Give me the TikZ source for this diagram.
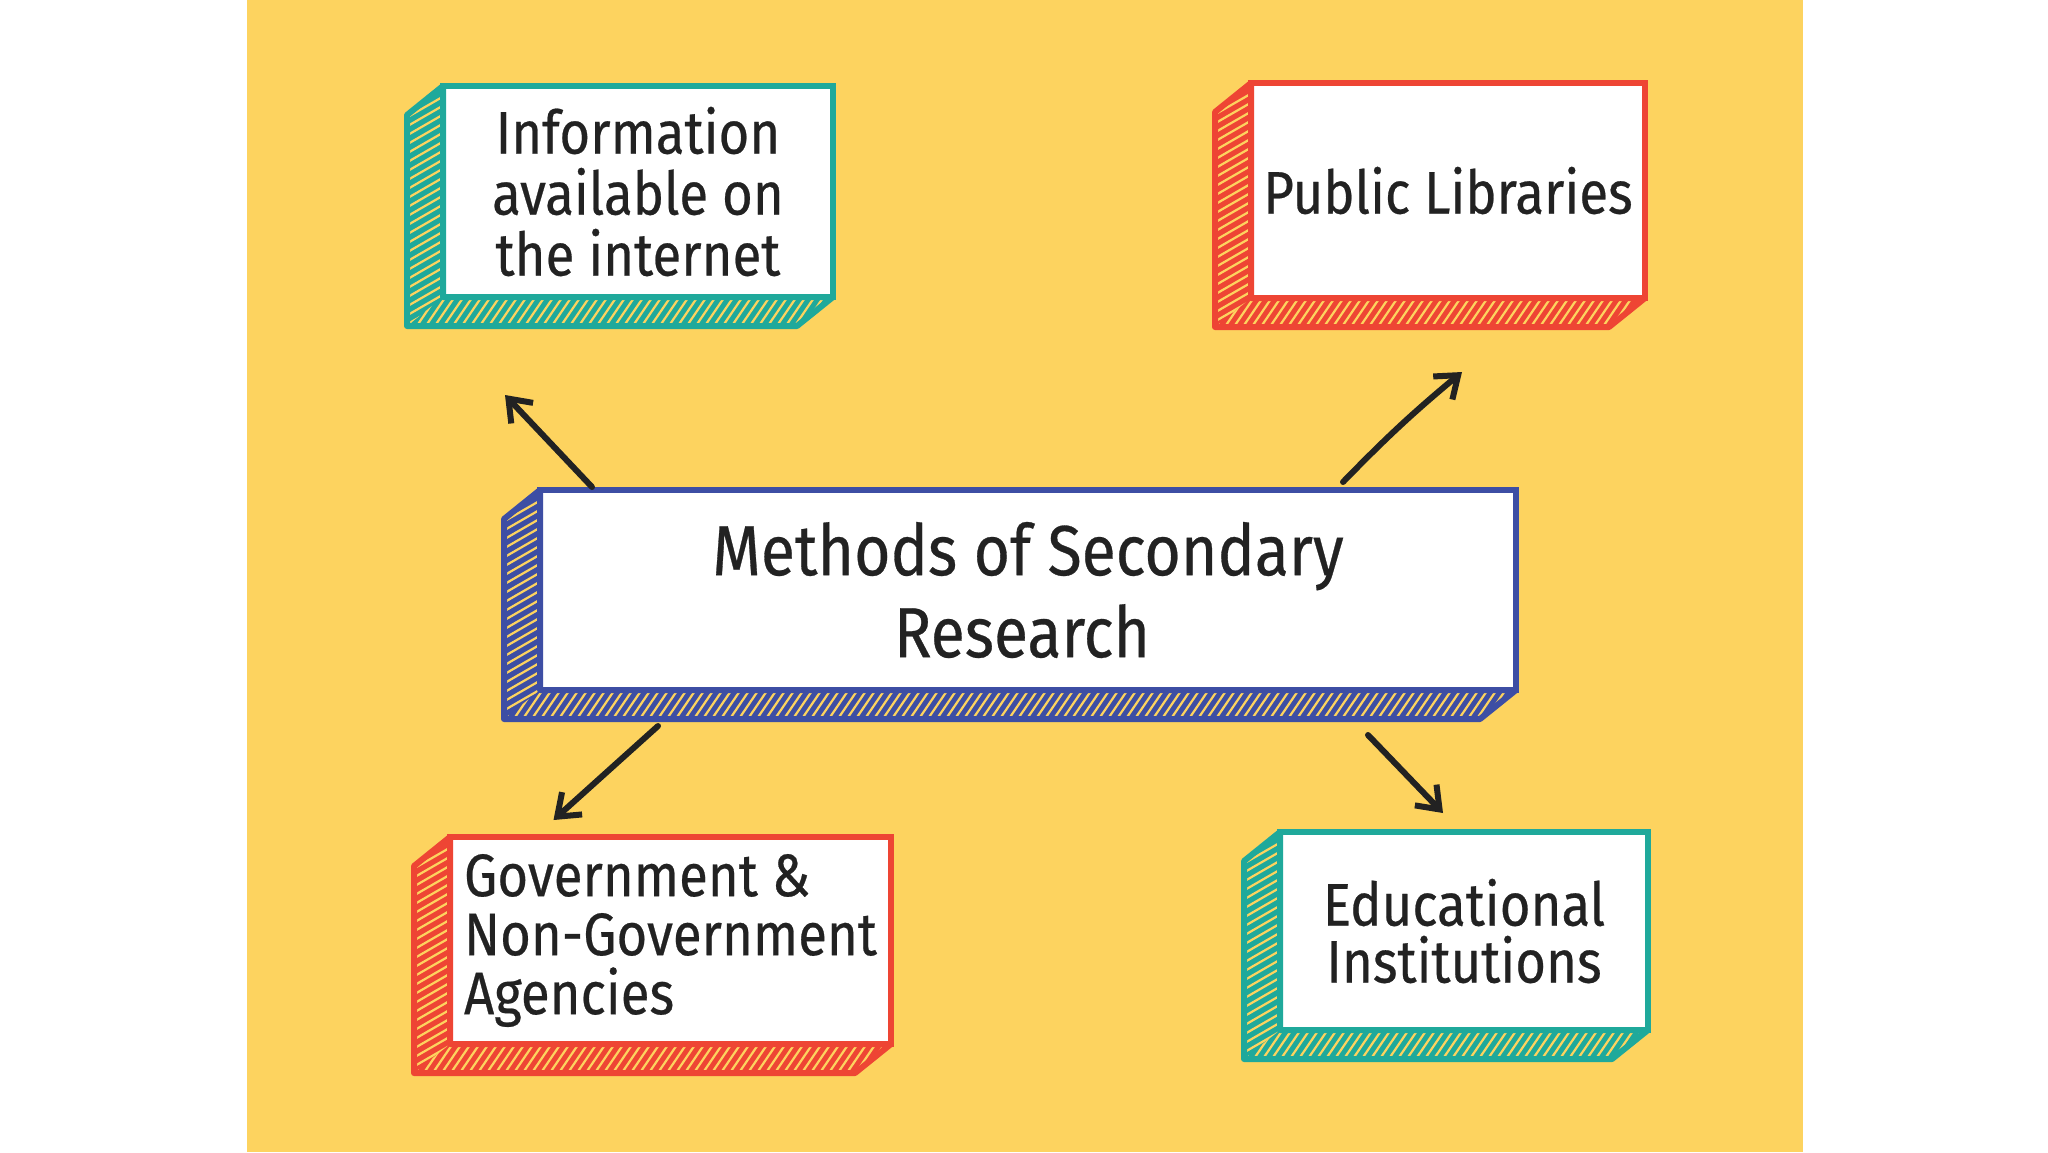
\documentclass[tikz,border=0pt]{standalone}
\usepackage{fontspec}
\setmainfont{Fira Sans}[FakeStretch=0.88, FakeBold=0.4]
\usetikzlibrary{arrows.meta}

\definecolor{sunbg}{HTML}{FDD35F}
\definecolor{tealc}{HTML}{1FA99B}
\definecolor{redc}{HTML}{EE4534}
\definecolor{bluec}{HTML}{3D4EA4}
\definecolor{inkc}{HTML}{222222}

\tikzset{
  card/.style={draw=#1, fill=white, line width=3pt, outer sep=0pt, inner sep=0pt, text=inkc},
  smalltext/.style={font={\fontsize{30pt}{30.5pt}\selectfont}},
  pointer/.style={-{Straight Barb[length=10pt,width=15pt]}, line width=3pt, line cap=round, line join=round, draw=inkc},
  hatch/.style={draw=sunbg, line width=1.1pt, line cap=round}
}

% hatched side and bottom of a card
\newcommand{\slab}[2]{%
  \fill[#2] (#1.north west) -- ([shift={(-36,29)}]#1.north west)
    -- ([shift={(-36,29)}]#1.south west) -- ([shift={(-36,29)}]#1.south east)
    -- (#1.south east) -- (#1.south west) -- cycle;
  \begin{scope}
    \clip (#1.north west) -- ([shift={(-36,29)}]#1.north west)
      -- ([shift={(-36,29)}]#1.south west) -- (#1.south west) -- cycle;
    \foreach \k in {0,9,...,300}
      \draw[hatch] ([shift={(-44,\k)}]#1.north west) -- ++(52,-30);
  \end{scope}
  \begin{scope}
    \clip (#1.south west) -- ([shift={(-36,29)}]#1.south west)
      -- ([shift={(-36,29)}]#1.south east) -- (#1.south east) -- cycle;
    \foreach \k in {0,9,...,1050}
      \draw[hatch] ([shift={(\k-40,36)}]#1.south west) -- ++(30,-44);
  \end{scope}
  \draw[#2, line width=3pt, line join=round] (#1.north west) -- ([shift={(-36,29)}]#1.north west)
    -- ([shift={(-36,29)}]#1.south west) -- ([shift={(-36,29)}]#1.south east)
    -- (#1.south east) -- (#1.south west) -- cycle;
}

\begin{document}
\begin{tikzpicture}[x=0.5pt, y=-0.5pt]
  \useasboundingbox (0,0) rectangle (2048,1152);
  \fill[sunbg] (247,0) rectangle (1803,1152);

  % cards
  \node[card=tealc, minimum width=195pt, minimum height=105.5pt, smalltext, align=center] (info) at (638,191.5) {Information\\available on\\the internet};
  \node[card=redc, minimum width=197pt, minimum height=107.5pt, smalltext] (lib) at (1448,190.5) {Public Libraries};
  \node[card=bluec, minimum width=488pt, minimum height=100pt, font={\fontsize{35.5pt}{41pt}\selectfont}, align=center] (main) at (1028,590) {Methods of Secondary\\Research\hspace*{6pt}};
  \node[card=redc, minimum width=220.5pt, minimum height=103.5pt, font={\fontsize{30pt}{29.5pt}\selectfont}, align=left] (gov) at (670.5,940.5) {Government \&\\Non-Government\\Agencies};
  \node[card=tealc, minimum width=184pt, minimum height=99pt, font={\fontsize{30pt}{28.5pt}\selectfont}, align=center] (edu) at (1464,931) {Educational\\Institutions};

  \slab{info}{tealc}
  \slab{lib}{redc}
  \slab{main}{bluec}
  \slab{gov}{redc}
  \slab{edu}{tealc}

  % arrows
  \draw[pointer] ([shift={(52,-3)}]main.north west) -- ([shift={(-133,98)}]info.south);
  \draw[pointer] ([shift={(-173,-8)}]main.north east) to[bend left=3] ([shift={(14,74)}]lib.south);
  \draw[pointer] ([shift={(118,36)}]main.south west) -- ([shift={(-117,-17)}]gov.north);
  \draw[pointer] ([shift={(-148,45)}]main.south east) -- ([shift={(-21,-19)}]edu.north);
\end{tikzpicture}
\end{document}
